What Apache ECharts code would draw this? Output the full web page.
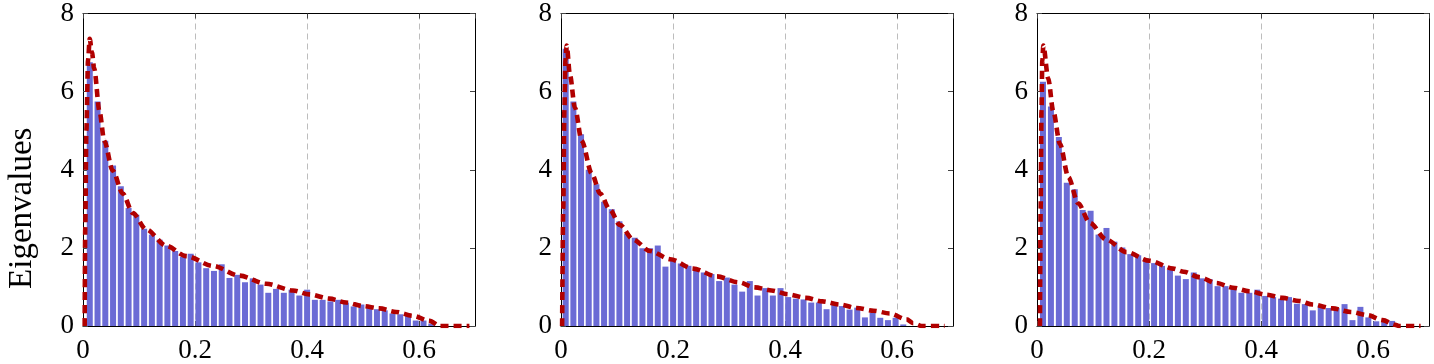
<!DOCTYPE html>
<html>
<head>
<meta charset="utf-8">
<script src="https://cdn.jsdelivr.net/npm/echarts@6/dist/echarts.min.js"></script>
<style>
  html, body { margin: 0; padding: 0; background: #fff; }
  #chart { width: 1434px; height: 364px; }
</style>
</head>
<body>
<div id="chart"></div>
<script>
// histogram bins: centre of first bin and bin width, one per panel
const binStart = [0.0121, 0.0084, 0.0107];
const binWidth = [0.01386, 0.0137, 0.01417];

const hist1 = [6.75, 5.75, 4.74, 4.11, 3.58, 3.02, 2.85, 2.49, 2.34, 2.21,
  2.06, 1.92, 1.77, 1.85, 1.63, 1.48, 1.41, 1.58, 1.23, 1.31,
  1.12, 1.22, 1.06, 0.85, 0.95, 0.85, 0.93, 0.78, 0.93, 0.67,
  0.67, 0.63, 0.67, 0.60, 0.50, 0.55, 0.49, 0.43, 0.40, 0.32,
  0.30, 0.32, 0.14, 0.14, 0.06];
const hist2 = [7.10, 5.75, 4.91, 4.00, 3.63, 3.18, 2.99, 2.68, 2.36, 2.26,
  1.99, 1.99, 2.06, 1.52, 1.67, 1.60, 1.54, 1.43, 1.37, 1.33,
  1.15, 1.24, 1.06, 0.88, 1.15, 0.78, 0.97, 0.78, 0.97, 0.74,
  0.70, 0.68, 0.60, 0.60, 0.43, 0.60, 0.51, 0.42, 0.47, 0.22,
  0.34, 0.21, 0.15, 0.21, 0.04];
const hist3 = [6.25, 5.62, 4.84, 3.67, 3.50, 2.97, 2.95, 2.34, 2.51, 2.16,
  2.01, 1.84, 1.81, 1.73, 1.61, 1.54, 1.44, 1.29, 1.20, 1.37,
  1.22, 1.20, 1.02, 1.02, 0.95, 0.85, 0.85, 0.93, 0.77, 0.74,
  0.70, 0.74, 0.57, 0.56, 0.40, 0.53, 0.46, 0.46, 0.56, 0.15,
  0.49, 0.22, 0.12, 0.10, 0.13];

// theoretical density (red dashed)
const density1 = [[0.003, 0], [0.004, 2.5], [0.006, 5.0], [0.009, 6.8], [0.012, 7.35],
  [0.016, 7.0], [0.020, 6.59], [0.0295, 5.49], [0.038, 4.74], [0.053, 3.98],
  [0.071, 3.39], [0.089, 2.89], [0.113, 2.47], [0.149, 2.05], [0.184, 1.79],
  [0.232, 1.54], [0.279, 1.29], [0.327, 1.08], [0.375, 0.91], [0.404, 0.81],
  [0.440, 0.70], [0.470, 0.60], [0.500, 0.51], [0.529, 0.45], [0.559, 0.36],
  [0.589, 0.26], [0.619, 0.13], [0.637, 0], [0.69, 0]];
const density2 = [[0.002, 0], [0.004, 3.0], [0.006, 5.5], [0.008, 6.8], [0.0102, 7.18],
  [0.016, 6.42], [0.025, 5.58], [0.037, 4.74], [0.055, 3.90], [0.070, 3.39],
  [0.0875, 2.97], [0.105, 2.59], [0.129, 2.21], [0.159, 1.92], [0.195, 1.71],
  [0.236, 1.47], [0.278, 1.27], [0.317, 1.12], [0.346, 0.99], [0.376, 0.91],
  [0.406, 0.81], [0.4375, 0.72], [0.467, 0.63], [0.498, 0.55], [0.528, 0.46],
  [0.558, 0.39], [0.5875, 0.32], [0.617, 0.17], [0.629, 0.07], [0.644, 0], [0.685, 0]];
const density3 = [[0.0053, 0], [0.0065, 3.0], [0.008, 5.5], [0.0095, 6.8], [0.0113, 7.18],
  [0.020, 6.34], [0.029, 5.50], [0.041, 4.66], [0.056, 3.81], [0.0735, 3.14],
  [0.0944, 2.64], [0.124, 2.21], [0.160, 1.89], [0.2006, 1.67], [0.243, 1.47],
  [0.262, 1.39], [0.290, 1.25], [0.320, 1.10], [0.350, 0.98], [0.379, 0.89],
  [0.409, 0.80], [0.439, 0.72], [0.468, 0.64], [0.492, 0.55], [0.528, 0.45],
  [0.560, 0.36], [0.590, 0.28], [0.617, 0.15], [0.640, 0.03], [0.646, 0], [0.685, 0]];

const xRange = [0, 0.7];
const xStep = 0.2;
const yRange = [0, 8];
const yStep = 2;
const yTitle = 'Eigenvalues';

const hists = [hist1, hist2, hist3];
const densities = [density1, density2, density3];

const font = "'Liberation Serif', 'DejaVu Serif', serif";
const gridLeft = [83, 561, 1037];

const chart = echarts.init(document.getElementById('chart'), null, { renderer: 'canvas' });

const grids = [], xAxes = [], yAxes = [], series = [];

hists.forEach((h, i) => {
  grids.push({ left: gridLeft[i], top: 11, width: 392, height: 317, containLabel: false });

  const tick = { show: true, inside: true, length: 5, lineStyle: { color: '#444', width: 1 } };
  const line = { show: true, onZero: false, lineStyle: { color: '#000', width: 1 } };

  // bottom x axis
  xAxes.push({
    gridIndex: i, type: 'value', position: 'bottom',
    min: xRange[0], max: xRange[1], interval: xStep,
    axisLine: line, axisTick: tick,
    axisLabel: { fontFamily: font, fontSize: 27, color: '#000', margin: 11, showMaxLabel: false },
    splitLine: { show: true, showMinLine: false, showMaxLine: false,
      lineStyle: { color: '#bdbdbd', type: [6, 4], width: 1 } }
  });
  // top x axis (frame + ticks only)
  xAxes.push({
    gridIndex: i, type: 'value', position: 'top',
    min: xRange[0], max: xRange[1], interval: xStep,
    axisLine: line, axisTick: tick, axisLabel: { show: false }, splitLine: { show: false }
  });
  // left y axis
  yAxes.push({
    gridIndex: i, type: 'value', position: 'left',
    min: yRange[0], max: yRange[1], interval: yStep,
    axisLine: line, axisTick: tick,
    axisLabel: { fontFamily: font, fontSize: 27, color: '#000', margin: 9 },
    splitLine: { show: false },
    name: i === 0 ? yTitle : '',
    nameLocation: 'middle', nameRotate: 90, nameGap: 44,
    nameTextStyle: { fontFamily: font, fontSize: 33, color: '#000', padding: [0, 77, 0, 0] }
  });
  // right y axis (frame + ticks only)
  yAxes.push({
    gridIndex: i, type: 'value', position: 'right',
    min: yRange[0], max: yRange[1], interval: yStep,
    axisLine: line, axisTick: tick, axisLabel: { show: false }, splitLine: { show: false }
  });

  series.push({
    type: 'bar',
    xAxisIndex: 2 * i, yAxisIndex: 2 * i,
    barWidth: 6,
    itemStyle: { color: '#6b6bd5' },
    data: h.map((v, k) => [binStart[i] + k * binWidth[i], v]),
    z: 2
  });
  series.push({
    type: 'line',
    xAxisIndex: 2 * i, yAxisIndex: 2 * i,
    showSymbol: false,
    smooth: 0.3,
    smoothMonotone: 'x',
    lineStyle: { color: '#b00000', width: 4.6, type: [8, 5], cap: 'butt' },
    data: densities[i],
    z: 3
  });
});

chart.setOption({
  animation: false,
  backgroundColor: '#fff',
  grid: grids,
  xAxis: xAxes,
  yAxis: yAxes,
  series: series
});
</script>
</body>
</html>
